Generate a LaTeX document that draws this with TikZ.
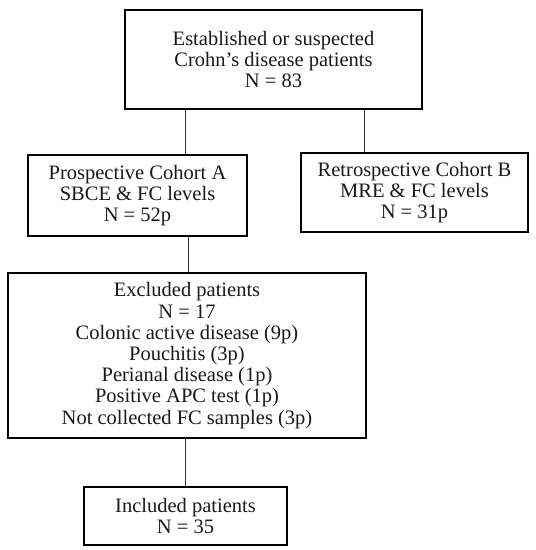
\documentclass[tikz,border=0pt]{standalone}
\usepackage{fontspec}
\setmainfont{Liberation Serif}
\begin{document}
\begin{tikzpicture}[x=1pt,y=-1pt,
  boxst/.style={draw=black,line width=1.3pt,align=center,inner sep=0pt,
    font=\fontsize{20.5}{21.2}\selectfont,text=black!90},
  link/.style={draw=black!80,line width=0.8pt}]
\useasboundingbox (0,0) rectangle (536,550);
\node[boxst,minimum width=297pt,minimum height=99pt] (top) at (273.5,59.5)
  {Established or suspected\\Crohn’s disease patients\\N = 83};
\node[boxst,minimum width=219pt,minimum height=81pt] (A) at (137.5,195.5)
  {Prospective Cohort A\\SBCE \& FC levels\\N = 52p};
\node[boxst,minimum width=227pt,minimum height=79pt] (B) at (414.5,192.5)
  {Retrospective Cohort B\\MRE \& FC levels\\N = 31p};
\node[boxst,minimum width=358pt,minimum height=165pt] (ex) at (187,355.5)
  {Excluded patients\\N = 17\\Colonic active disease (9p)\\Pouchitis (3p)\\Perianal disease (1p)\\Positive APC test (1p)\\Not collected FC samples (3p)};
\node[boxst,minimum width=203pt,minimum height=58pt] (inc) at (185.5,516)
  {Included patients\\N = 35};
\coordinate (c1) at (185,0);
\coordinate (c2) at (364,0);
\coordinate (c3) at (188,0);
\coordinate (c4) at (185,0);
\draw[link] (c1 |- top.south) -- (c1 |- A.north);
\draw[link] (c2 |- top.south) -- (c2 |- B.north);
\draw[link] (c3 |- A.south) -- (c3 |- ex.north);
\draw[link] (c4 |- ex.south) -- (c4 |- inc.north);
\end{tikzpicture}
\end{document}
